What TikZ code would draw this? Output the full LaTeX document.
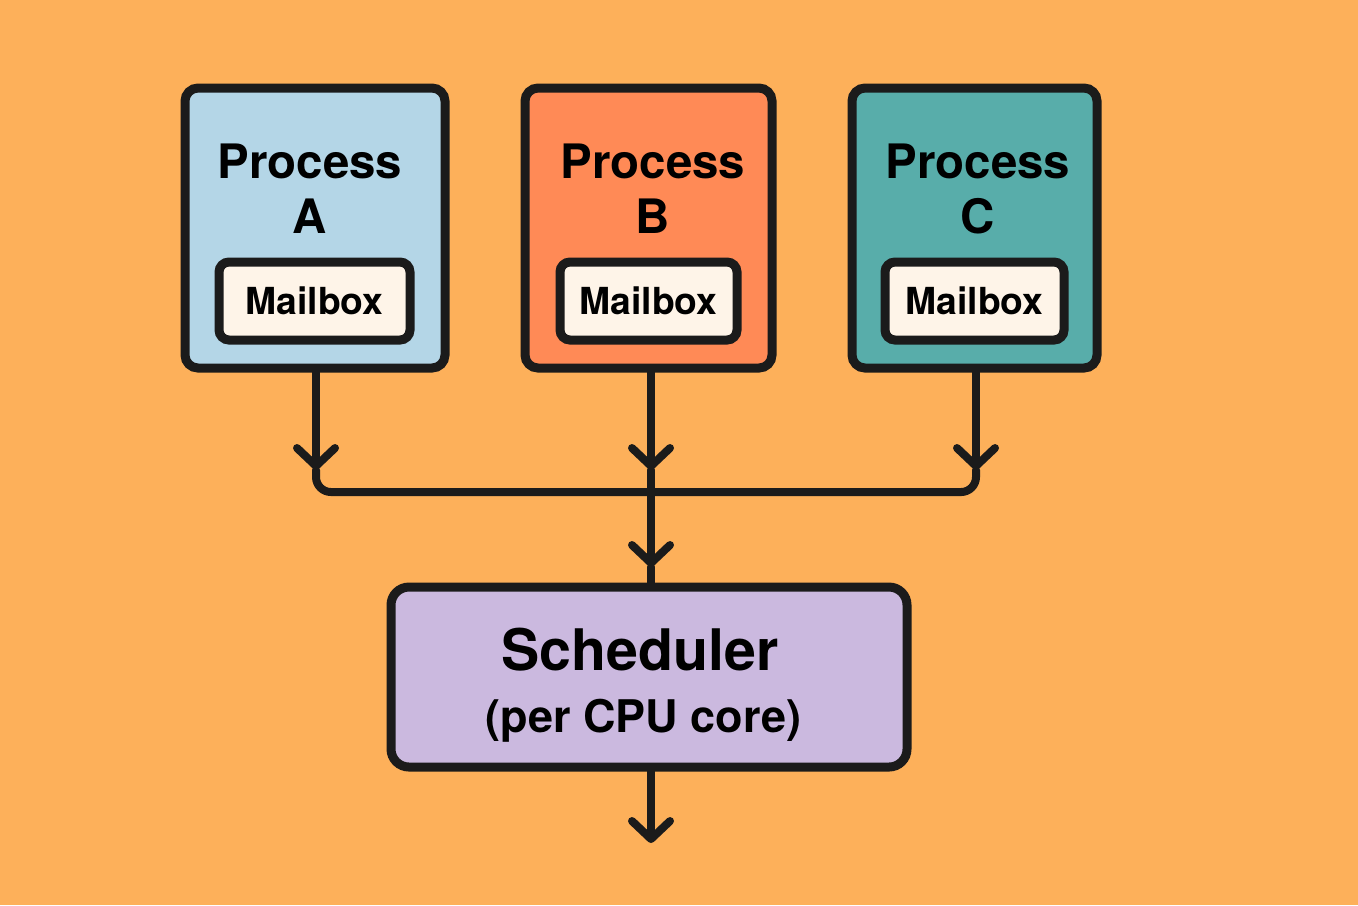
\documentclass[tikz,border=0pt]{standalone}
\usepackage{fontspec}
\setmainfont{TeX Gyre Heros}
\usetikzlibrary{arrows.meta}
\definecolor{bgorange}{HTML}{FDB05A}
\definecolor{inkblack}{HTML}{1B1B1B}
\definecolor{procblue}{HTML}{B4D6E7}
\definecolor{proccoral}{HTML}{FF8A56}
\definecolor{procteal}{HTML}{58ADAA}
\definecolor{mailcream}{HTML}{FEF4E8}
\definecolor{schedlilac}{HTML}{CBB9DF}

\begin{document}
\begin{tikzpicture}[
	procbox/.style={draw=inkblack, line width=0.09cm, rounded corners=0.13cm, inner sep=0, minimum height=2.80cm},
	mailbox/.style={draw=inkblack, line width=0.09cm, rounded corners=0.1cm, fill=mailcream, inner sep=0, minimum height=0.78cm, font=\fontsize{10.6}{12}\selectfont\bfseries},
	proctitle/.style={align=center, inner sep=0, font=\fontsize{13.5}{15.6}\selectfont\bfseries},
	flow/.style={draw=inkblack, line width=0.08cm, line cap=round, line join=round},
	tip/.style={-{Straight Barb[length=1.8mm,width=3.8mm,round]}}
	]
		%%%%% START %%%%%
		
		\fill[bgorange] (0, 0) rectangle (13.58, -9.05);
		
		% processes
		\node[procbox, fill=procblue, minimum width=2.60cm] (procA) at (3.15, -2.28) {};
		\node[procbox, fill=proccoral, minimum width=2.47cm] (procB) at (6.485, -2.28) {};
		\node[procbox, fill=procteal, minimum width=2.45cm] (procC) at (9.745, -2.28) {};
		
		\node[proctitle] (titleA) at (3.10, -1.89) {Process\\A};
		\node[proctitle] (titleB) at (6.53, -1.89) {Process\\B};
		\node[proctitle] (titleC) at (9.78, -1.89) {Process\\C};
		
		\node[mailbox, minimum width=1.91cm] (mailA) at (3.145, -3.01) {Mailbox};
		\node[mailbox, minimum width=1.77cm] (mailB) at (6.485, -3.01) {Mailbox};
		\node[mailbox, minimum width=1.79cm] (mailC) at (9.745, -3.01) {Mailbox};
		
		% scheduler
		\node[procbox, fill=schedlilac, rounded corners=0.18cm, minimum width=5.16cm, minimum height=1.80cm] (sched) at (6.49, -6.77) {};
		\node[inner sep=0, anchor=base, font=\fontsize{16.3}{18}\selectfont\bfseries] (schedTitle) at (6.40, -6.70) {Scheduler};
		\node[inner sep=0, anchor=base, font=\fontsize{12.8}{15}\selectfont\bfseries] (schedCore) at (6.435, -7.32) {(per CPU core)};
		
		% connectors
		\coordinate (tipA) at (3.16, -4.70);
		\coordinate (tipB) at (6.51, -4.70);
		\coordinate (tipC) at (9.76, -4.70);
		\coordinate (busA) at (3.16, -4.92);
		\coordinate (busC) at (9.76, -4.92);
		\coordinate (tipS) at (6.51, -5.67);
		\coordinate (out) at (6.51, -8.43);
		
		\draw[flow, tip] (procA.south -| tipA) -- (tipA);
		\draw[flow, tip] (procB.south -| tipB) -- (tipB);
		\draw[flow, tip] (procC.south -| tipC) -- (tipC);
		\draw[flow, rounded corners=0.15cm] (tipA) -- (busA) -- (busC) -- (tipC);
		\draw[flow, tip] (tipB) -- (tipS);
		\draw[flow] (tipS) -- (sched.north -| tipS);
		\draw[flow, tip] (sched.south -| out) -- (out);
		
		%%%%% END %%%%%
	\end{tikzpicture}
\end{document}
